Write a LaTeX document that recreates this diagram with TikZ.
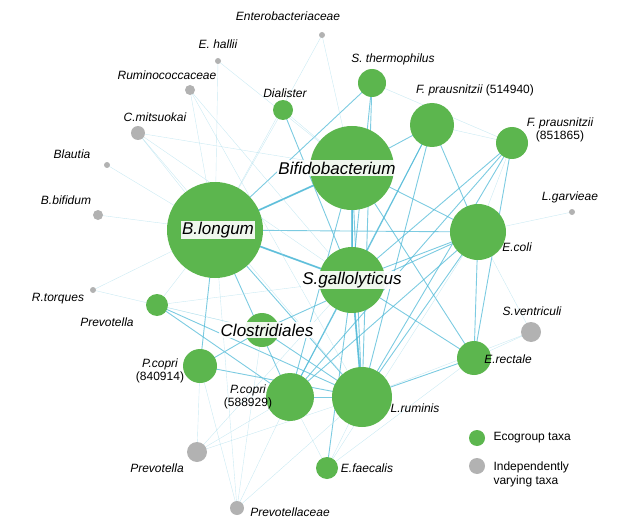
\documentclass[tikz,border=0pt]{standalone}
\usepackage{fontspec}
\setmainfont{Liberation Sans}
\begin{document}
\begin{tikzpicture}[x=1pt,y=-1pt,
 lb/.style={font=\itshape\fontsize{12}{13.5}\selectfont,inner sep=1pt},
 big/.style={font=\itshape\fontsize{17}{19}\selectfont,inner sep=1.5pt,fill=white,fill opacity=0.9,text opacity=1},
 e/.style={draw=edgec,line width=0.9pt,opacity=0.75},
 ew/.style={draw=edgec!50!white,line width=0.4pt,opacity=0.6},
 es/.style={draw=edgec,line width=1.8pt,opacity=0.75}]
\definecolor{gc}{RGB}{92,182,78}
\definecolor{edgec}{RGB}{80,185,215}
\useasboundingbox (0,0) rectangle (640,524);
\tikzset{G/.style={fill=gc}}
% nodes
\coordinate (bif) at (352,168); \coordinate (bl) at (215,230);
\coordinate (sg) at (352,280); \coordinate (ec) at (478,232);
\coordinate (f1) at (432,125); \coordinate (f2) at (512,143);
\coordinate (st) at (372,83); \coordinate (di) at (283,110);
\coordinate (cl) at (262,330); \coordinate (pv) at (157,305);
\coordinate (pc1) at (200,366); \coordinate (pc2) at (290,397);
\coordinate (lr) at (362,397); \coordinate (er) at (474,358);
\coordinate (ef) at (327,468);
\coordinate (en) at (322,35); \coordinate (eh) at (218,61);
\coordinate (ru) at (190,90); \coordinate (cm) at (138,133);
\coordinate (bla) at (107,165); \coordinate (bb) at (98,215);
\coordinate (lg) at (572,212); \coordinate (rt) at (93,290);
\coordinate (sv) at (531,332); \coordinate (pg) at (197,452);
\coordinate (pce) at (237,508);
% edges
\foreach \a/\b in {bif/bl,bif/sg,bl/sg,bif/f1,bif/ec,sg/ec,sg/lr,sg/pc2,bl/pc2,bl/lr,f1/ec,f1/lr,ec/lr,ec/er,bif/lr,sg/f1,st/sg,st/lr,f2/lr,f2/sg,bl/ec,cl/lr,cl/pc1,pc1/lr,pc2/lr,er/lr,ef/sg,bl/pc1,pv/pc2,pv/lr,bif/pc2,f1/pc2,ec/pc2,di/sg,st/bl,f2/pc2,er/sg,f2/er,bif/er,cl/ec}
 \draw[e] (\a) -- (\b);
\foreach \a/\b in {bif/bl,sg/lr,bl/sg,bif/sg}
 \draw[es] (\a) -- (\b);
\foreach \a/\b in {en/bif,eh/bl,ru/bl,cm/bl,cm/bif,bla/bl,bb/bl,lg/ec,rt/bl,rt/cl,sv/ec,sv/er,sv/lr,pg/pc1,pg/pc2,pg/lr,pce/pc1,pce/pc2,pce/cl,pce/bl,pce/lr,pg/sg,cm/sg,ru/sg,di/bl,di/bif,st/f2,f1/f2,f2/ec,pv/bl,pv/cl,ef/lr,ef/pc2,ef/er,ef/ec,cm/lr,en/bl,eh/bif,pv/sg,ru/lr}
 \draw[ew] (\a) -- (\b);
% circles
\foreach \p/\r in {bif/42,bl/48,sg/33,ec/28,f1/22,f2/16,st/14,di/10,cl/17,pv/11,pc1/17,pc2/24,lr/30,er/17,ef/11}
 \fill[G] (\p) circle (\r);
\foreach \p/\r in {en/3,eh/3,ru/5,cm/7,bla/3,bb/5,lg/3,rt/3,sv/10,pg/10,pce/7}
 \fill[black!30] (\p) circle (\r);
% labels
\node[big] (Lbif) at (337,168) {Bifidobacterium};
\node[big] (Lbl) at (218,230) {B.longum};
\node[big] (Lsg) at (352,280) {S.gallolyticus};
\node[big] (Lcl) at (267,330) {Clostridiales};
\node[lb] at (475,90) {F. prausnitzii \upshape(514940)};
\node[lb,align=center] at (560,130) {F. prausnitzii\\\upshape(851865)};
\node[lb] at (393,59) {S. thermophilus};
\node[lb] at (285,93) {Dialister};
\node[lb] at (517,247) {E.coli};
\node[lb] at (570,197) {L.garvieae};
\node[lb] at (508,359) {E.rectale};
\node[lb] at (532,311) {S.ventriculi};
\node[lb] at (415,408) {L.ruminis};
\node[lb] at (367,468) {E.faecalis};
\node[lb,align=center] at (160,371) {P.copri\\\upshape(840914)};
\node[lb,align=center] at (248,397) {P.copri\\\upshape(588929)};
\node[lb] at (107,322) {Prevotella};
\node[lb] at (157,468) {Prevotella};
\node[lb] at (290,512) {Prevotellaceae};
\node[lb] at (58,299) {R.torques};
\node[lb] at (66,200) {B.bifidum};
\node[lb] at (72,154) {Blautia};
\node[lb] at (155,117) {C.mitsuokai};
\node[lb] at (167,75) {Ruminococcaceae};
\node[lb] at (218,44) {E. hallii};
\node[lb] at (288,16) {Enterobacteriaceae};
% legend
\fill[G] (477,438) circle (8);
\node[font=\fontsize{12}{14}\selectfont,anchor=west] at (490,438) {Ecogroup taxa};
\fill[black!30] (477,466) circle (8);
\node[font=\fontsize{12}{14}\selectfont,anchor=west,align=left] at (490,474) {Independently\\varying taxa};
\end{tikzpicture}
\end{document}
